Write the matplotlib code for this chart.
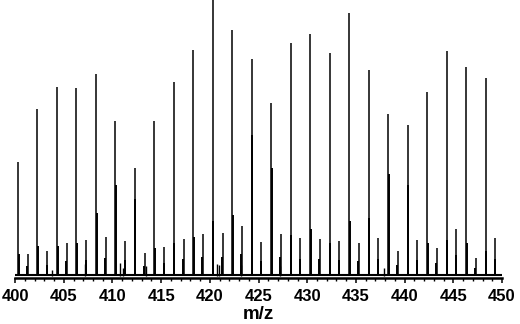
import matplotlib
matplotlib.use("Agg")
import matplotlib.pyplot as plt
from matplotlib.ticker import MultipleLocator
import numpy as np

# main isotope peaks at even nominal masses (relative intensity, %)
even_mz = [400.3 + 2 * i for i in range(25)]
even_int = [41.3, 60.5, 68.5, 68.1, 73.2, 56.2, 39.1, 56.2, 70.3, 81.9,
            100.0, 89.1, 78.6, 62.7, 84.4, 87.7, 80.8, 95.3, 74.6, 58.7,
            54.7, 66.7, 81.5, 75.7, 71.7]
# overlapping second series right next to the main peaks
shoulder_int = [8, 11, 11, 12, 23, 33, 28, 10, 12, 14,
                20, 22, 51, 39, 15, 17, 12, 20, 21, 37,
                33, 12, 13, 12, 9]
# peaks at odd nominal masses
odd_mz = [401.3 + 2 * i for i in range(25)]
odd_int = [8.0, 9.1, 12.0, 13.0, 14.1, 12.7, 8.3, 10.5, 13.4, 15.2,
           15.6, 18.1, 12.3, 15.2, 13.8, 13.4, 12.7, 12.0, 13.8, 9.1,
           13.0, 10.1, 17.0, 6.5, 13.8]
# small extra peaks
small_mz = [403.8, 407.2, 410.8, 411.1, 413.4, 420.7, 420.9, 423.2, 427.2, 437.9]
small_int = [2.0, 4.5, 4.7, 3.0, 3.5, 4.3, 4.0, 4.0, 3.5, 3.0]

fig = plt.figure(figsize=(5.2, 3.24), dpi=100)
ax = fig.add_axes([0.029, 0.143, 0.9365, 0.857])

ax.vlines(even_mz, 0, even_int, color="black", lw=1.1)
ax.vlines(np.array(even_mz) + 0.06, 0, shoulder_int, color="black", lw=1.4)
ax.vlines(odd_mz, 0, odd_int, color="black", lw=1.1)
ax.vlines(np.array(odd_mz) - 0.06, 0, np.array(odd_int) * 0.45, color="black", lw=1.4)
ax.vlines(small_mz, 0, small_int, color="black", lw=1.0)
ax.axhline(0.4, color="black", lw=1.5)

ax.set_xlim(400, 450)
ax.set_ylim(-0.6, 100)
for s in ["top", "left", "right"]:
    ax.spines[s].set_visible(False)
ax.spines["bottom"].set_linewidth(1.8)
ax.set_yticks([])
ax.xaxis.set_major_locator(MultipleLocator(5))
ax.xaxis.set_minor_locator(MultipleLocator(1))
ax.tick_params(axis="x", which="major", length=3.5, width=1.1, pad=4.5,
               labelsize=12)
ax.tick_params(axis="x", which="minor", length=2.5, width=1.0)
for lab in ax.get_xticklabels():
    lab.set_fontfamily("Liberation Sans")
    lab.set_fontweight("bold")
ax.set_xlabel("m/z", fontsize=13.5, family="Liberation Sans",
              fontweight="bold", labelpad=1.5)

fig.savefig("out.png", dpi=100)
